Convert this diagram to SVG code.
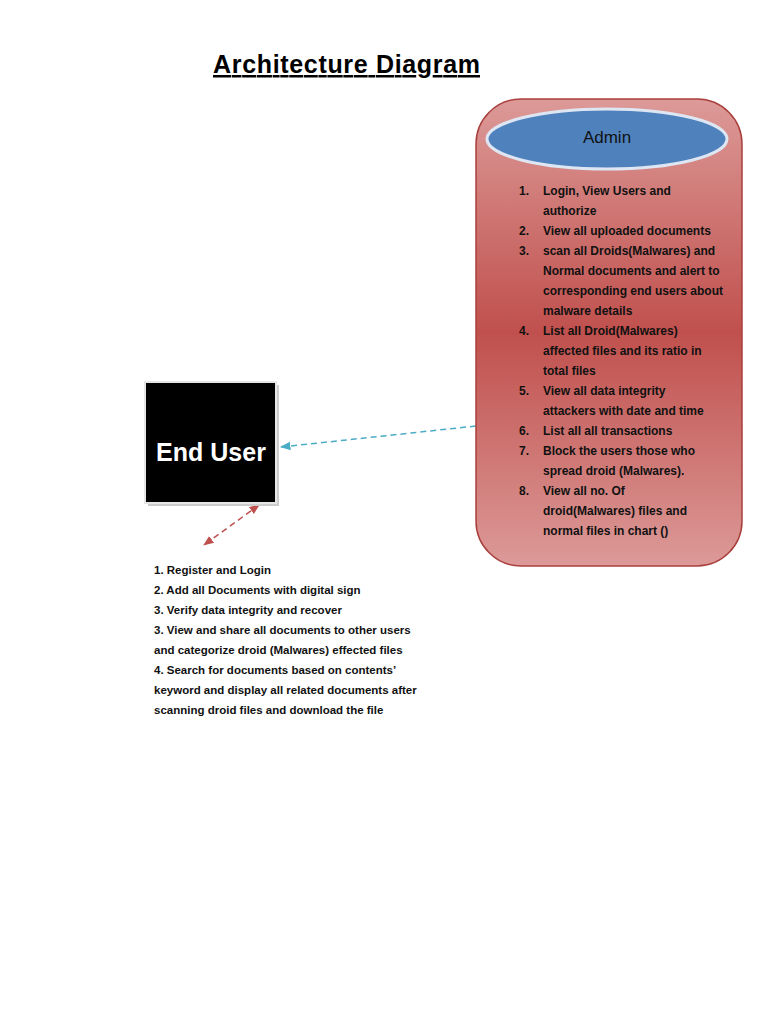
<svg xmlns="http://www.w3.org/2000/svg" width="768" height="1024" viewBox="0 0 768 1024">
<style>
.t{font-family:"Liberation Sans",Arial,sans-serif;font-weight:bold;font-size:12px;fill:#111}
.b{font-family:"Liberation Sans",Arial,sans-serif;font-weight:bold;font-size:11.5px;fill:#111}
</style>
<defs>
<linearGradient id="rg" x1="0" y1="0" x2="0" y2="1">
<stop offset="0" stop-color="#dc9a98"/><stop offset="0.5" stop-color="#c0504d"/><stop offset="1" stop-color="#dc9a98"/>
</linearGradient>
<marker id="ab" viewBox="0 0 10 10" refX="9" refY="5" markerWidth="7" markerHeight="7" orient="auto-start-reverse"><path d="M0,1 L10,5 L0,9 z" fill="#4bacc6"/></marker>
<marker id="ar" viewBox="0 0 10 10" refX="9" refY="5" markerWidth="7" markerHeight="7" orient="auto-start-reverse"><path d="M0,1 L10,5 L0,9 z" fill="#c0504d"/></marker>
</defs>
<rect width="768" height="1024" fill="#fff"/>
<text x="213" y="73" font-family="'Liberation Sans',Arial,sans-serif" font-weight="bold" font-size="25" text-decoration="underline" textLength="267">Architecture Diagram</text>
<g id="connectors" fill="none" stroke-dasharray="6,4" stroke-width="1.5">
<line x1="476" y1="426" x2="281" y2="447" stroke="#4bacc6" marker-end="url(#ab)"/>
<line x1="259" y1="505" x2="204" y2="545" stroke="#c0504d" marker-start="url(#ar)" marker-end="url(#ar)"/>
</g>
<g id="admin">
<rect x="476" y="99" width="266" height="467" rx="45" fill="url(#rg)" stroke="#a9403d" stroke-width="1.5"/>
<ellipse cx="607" cy="139" rx="120" ry="30" fill="#4f81bd" stroke="#dde6f2" stroke-width="3"/>
<text x="607" y="143" text-anchor="middle" font-family="'Liberation Sans',Arial,sans-serif" font-size="17" fill="#111">Admin</text>
<g class="t">
<text x="519" y="195">1.</text><text x="543" y="195">Login, View Users and</text><text x="543" y="215">authorize</text>
<text x="519" y="235">2.</text><text x="543" y="235">View all uploaded documents</text>
<text x="519" y="255">3.</text><text x="543" y="255">scan all Droids(Malwares) and</text><text x="543" y="275">Normal documents and alert to</text><text x="543" y="295">corresponding end users about</text><text x="543" y="315">malware details</text>
<text x="519" y="335">4.</text><text x="543" y="335">List all Droid(Malwares)</text><text x="543" y="355">affected files and its ratio in</text><text x="543" y="375">total files</text>
<text x="519" y="395">5.</text><text x="543" y="395">View all data integrity</text><text x="543" y="415">attackers with date and time</text>
<text x="519" y="435">6.</text><text x="543" y="435">List all  all transactions</text>
<text x="519" y="455">7.</text><text x="543" y="455">Block the users those who</text><text x="543" y="475">spread droid (Malwares).</text>
<text x="519" y="495">8.</text><text x="543" y="495">View all no. Of</text><text x="543" y="515">droid(Malwares) files and</text><text x="543" y="535">normal files  in chart ()</text>
</g>
</g>
<g id="enduser">
<rect x="148" y="385" width="131" height="121" fill="#ccc"/>
<rect x="145" y="382" width="131" height="121" fill="#000" stroke="#e6e6e6" stroke-width="2"/>
<text x="211" y="461" text-anchor="middle" font-family="'Liberation Sans',Arial,sans-serif" font-weight="bold" font-size="25" fill="#fff">End User</text>
</g>
<g id="userlist" class="b">
<text x="154" y="574">1. Register and Login</text>
<text x="154" y="594">2. Add all Documents with digital sign</text>
<text x="154" y="614">3. Verify data integrity and recover</text>
<text x="154" y="634">3. View and share all documents to other users</text>
<text x="154" y="654">and categorize droid (Malwares) effected files</text>
<text x="154" y="674">4. Search for documents based on contents’</text>
<text x="154" y="694">keyword and display all related documents after</text>
<text x="154" y="714">scanning droid files and download the file</text>
</g>
</svg>
